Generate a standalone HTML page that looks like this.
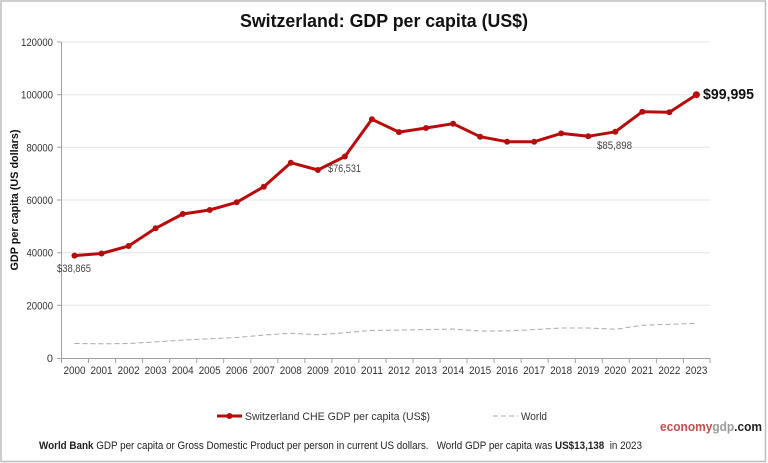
<!DOCTYPE html>
<html><head><meta charset="utf-8"><style>
html,body{margin:0;padding:0;background:#fff;}
svg{display:block;font-family:"Liberation Sans",Arial,sans-serif;}
</style></head><body>
<svg width="768" height="463" viewBox="0 0 768 463" xmlns="http://www.w3.org/2000/svg">
<rect x="1" y="1" width="764.5" height="460.5" fill="#fff" stroke="#bdbdbd" stroke-width="1.5"/>
<text x="384" y="27" text-anchor="middle" font-size="18" font-weight="bold" fill="#111" textLength="288" lengthAdjust="spacingAndGlyphs">Switzerland: GDP per capita (US$)</text>
<g stroke="#e3e3e3" stroke-width="1">
<line x1="61" y1="42" x2="710" y2="42"/>
<line x1="61" y1="94.7" x2="710" y2="94.7"/>
<line x1="61" y1="147.3" x2="710" y2="147.3"/>
<line x1="61" y1="200" x2="710" y2="200"/>
<line x1="61" y1="252.7" x2="710" y2="252.7"/>
<line x1="61" y1="305.3" x2="710" y2="305.3"/>
</g>
<g stroke="#a0a0a0" stroke-width="1">
<line x1="61.5" y1="42" x2="61.5" y2="358"/>
<line x1="61" y1="358.5" x2="710" y2="358.5"/>
<line x1="57" y1="42" x2="61" y2="42"/>
<line x1="57" y1="94.7" x2="61" y2="94.7"/>
<line x1="57" y1="147.3" x2="61" y2="147.3"/>
<line x1="57" y1="200" x2="61" y2="200"/>
<line x1="57" y1="252.7" x2="61" y2="252.7"/>
<line x1="57" y1="305.3" x2="61" y2="305.3"/>
<line x1="57" y1="358.5" x2="61" y2="358.5"/>
<path d="M61.5 358v5 M88.5 358v5 M115.6 358v5 M142.6 358v5 M169.7 358v5 M196.7 358v5 M223.7 358v5 M250.8 358v5 M277.8 358v5 M304.9 358v5 M331.9 358v5 M358.9 358v5 M386 358v5 M413 358v5 M440.1 358v5 M467.1 358v5 M494.1 358v5 M521.2 358v5 M548.2 358v5 M575.3 358v5 M602.3 358v5 M629.3 358v5 M656.4 358v5 M683.4 358v5 M710 358v5"/>
</g>
<g font-size="11" fill="#333" text-anchor="end" lengthAdjust="spacingAndGlyphs">
<text x="53" y="46" textLength="32" lengthAdjust="spacingAndGlyphs">120000</text>
<text x="53" y="98.7" textLength="32" lengthAdjust="spacingAndGlyphs">100000</text>
<text x="53" y="151.3" textLength="26.5" lengthAdjust="spacingAndGlyphs">80000</text>
<text x="53" y="204" textLength="26.5" lengthAdjust="spacingAndGlyphs">60000</text>
<text x="53" y="256.7" textLength="26.5" lengthAdjust="spacingAndGlyphs">40000</text>
<text x="53" y="309.3" textLength="26.5" lengthAdjust="spacingAndGlyphs">20000</text>
<text x="53" y="362">0</text>
</g>
<text transform="translate(18,200) rotate(-90)" text-anchor="middle" font-size="11" font-weight="bold" fill="#111" textLength="141" lengthAdjust="spacingAndGlyphs">GDP per capita (US dollars)</text>
<g font-size="11" fill="#333" text-anchor="middle">
<text x="74.5" y="374" textLength="22" lengthAdjust="spacingAndGlyphs">2000</text><text x="101.5" y="374" textLength="22" lengthAdjust="spacingAndGlyphs">2001</text><text x="128.6" y="374" textLength="22" lengthAdjust="spacingAndGlyphs">2002</text><text x="155.6" y="374" textLength="22" lengthAdjust="spacingAndGlyphs">2003</text><text x="182.7" y="374" textLength="22" lengthAdjust="spacingAndGlyphs">2004</text><text x="209.7" y="374" textLength="22" lengthAdjust="spacingAndGlyphs">2005</text><text x="236.7" y="374" textLength="22" lengthAdjust="spacingAndGlyphs">2006</text><text x="263.8" y="374" textLength="22" lengthAdjust="spacingAndGlyphs">2007</text><text x="290.8" y="374" textLength="22" lengthAdjust="spacingAndGlyphs">2008</text><text x="317.9" y="374" textLength="22" lengthAdjust="spacingAndGlyphs">2009</text><text x="344.9" y="374" textLength="22" lengthAdjust="spacingAndGlyphs">2010</text><text x="371.9" y="374" textLength="22" lengthAdjust="spacingAndGlyphs">2011</text><text x="399" y="374" textLength="22" lengthAdjust="spacingAndGlyphs">2012</text><text x="426" y="374" textLength="22" lengthAdjust="spacingAndGlyphs">2013</text><text x="453.1" y="374" textLength="22" lengthAdjust="spacingAndGlyphs">2014</text><text x="480.1" y="374" textLength="22" lengthAdjust="spacingAndGlyphs">2015</text><text x="507.1" y="374" textLength="22" lengthAdjust="spacingAndGlyphs">2016</text><text x="534.2" y="374" textLength="22" lengthAdjust="spacingAndGlyphs">2017</text><text x="561.2" y="374" textLength="22" lengthAdjust="spacingAndGlyphs">2018</text><text x="588.3" y="374" textLength="22" lengthAdjust="spacingAndGlyphs">2019</text><text x="615.3" y="374" textLength="22" lengthAdjust="spacingAndGlyphs">2020</text><text x="642.3" y="374" textLength="22" lengthAdjust="spacingAndGlyphs">2021</text><text x="669.4" y="374" textLength="22" lengthAdjust="spacingAndGlyphs">2022</text><text x="696.4" y="374" textLength="22" lengthAdjust="spacingAndGlyphs">2023</text>
</g>
<polyline fill="none" stroke="#a8a8a8" stroke-width="1" stroke-dasharray="5,3" points="74.5,343.5 101.5,343.8 128.6,343.5 155.6,341.9 182.7,340.1 209.7,338.8 236.7,337.5 263.8,335.1 290.8,333.2 317.9,334.8 344.9,332.7 371.9,330.4 399,330.1 426,329.6 453.1,329 480.1,331.1 507.1,330.9 534.2,329.6 561.2,328 588.3,328 615.3,329.3 642.3,325.3 669.4,324.3 696.4,323.4"/>
<polyline fill="none" stroke="#b80c0c" stroke-width="3" stroke-linejoin="round" points="74.5,255.6 101.5,253.5 128.6,246 155.6,228.3 182.7,214 209.7,210 236.7,202.3 263.8,186.7 290.8,162.7 317.9,170 344.9,156.5 371.9,119.3 399,132.1 426,128 453.1,123.7 480.1,136.7 507.1,141.7 534.2,141.7 561.2,133.4 588.3,136.3 615.3,131.8 642.3,111.7 669.4,112.3 696.4,94.7"/>
<g fill="#b80c0c">
<circle cx="74.5" cy="255.6" r="3"/><circle cx="101.5" cy="253.5" r="3"/><circle cx="128.6" cy="246" r="3"/><circle cx="155.6" cy="228.3" r="3"/><circle cx="182.7" cy="214" r="3"/><circle cx="209.7" cy="210" r="3"/><circle cx="236.7" cy="202.3" r="3"/><circle cx="263.8" cy="186.7" r="3"/><circle cx="290.8" cy="162.7" r="3"/><circle cx="317.9" cy="170" r="3"/><circle cx="344.9" cy="156.5" r="3"/><circle cx="371.9" cy="119.3" r="3"/><circle cx="399" cy="132.1" r="3"/><circle cx="426" cy="128" r="3"/><circle cx="453.1" cy="123.7" r="3"/><circle cx="480.1" cy="136.7" r="3"/><circle cx="507.1" cy="141.7" r="3"/><circle cx="534.2" cy="141.7" r="3"/><circle cx="561.2" cy="133.4" r="3"/><circle cx="588.3" cy="136.3" r="3"/><circle cx="615.3" cy="131.8" r="3"/><circle cx="642.3" cy="111.7" r="3"/><circle cx="669.4" cy="112.3" r="3"/><circle cx="696.4" cy="94.7" r="3.5"/>
</g>
<g font-size="11" fill="#444">
<text x="57" y="272" textLength="34" lengthAdjust="spacingAndGlyphs">$38,865</text>
<text x="328" y="172" textLength="33" lengthAdjust="spacingAndGlyphs">$76,531</text>
<text x="597" y="149" textLength="35" lengthAdjust="spacingAndGlyphs">$85,898</text>
</g>
<text x="703" y="99" font-size="15" font-weight="bold" fill="#111" textLength="51" lengthAdjust="spacingAndGlyphs">$99,995</text>
<line x1="217" y1="416" x2="242" y2="416" stroke="#b80c0c" stroke-width="3"/>
<circle cx="229.5" cy="416" r="3" fill="#b80c0c"/>
<text x="245" y="420" font-size="11" fill="#333" textLength="185" lengthAdjust="spacingAndGlyphs">Switzerland CHE GDP per capita (US$)</text>
<line x1="493" y1="416" x2="518" y2="416" stroke="#a8a8a8" stroke-width="1" stroke-dasharray="5,3"/>
<text x="521" y="420" font-size="11" fill="#333" textLength="26" lengthAdjust="spacingAndGlyphs">World</text>
<text x="660" y="431" font-size="13" font-weight="bold" textLength="102" lengthAdjust="spacingAndGlyphs"><tspan fill="#c0504d">economy</tspan><tspan fill="#9a9a9a">gdp</tspan><tspan fill="#222">.com</tspan></text>
<text x="39" y="449" font-size="11" fill="#222" textLength="603" lengthAdjust="spacingAndGlyphs" xml:space="preserve"><tspan font-weight="bold">World Bank</tspan> GDP per capita or Gross Domestic Product per person in current US dollars.   World GDP per capita was <tspan font-weight="bold">US$13,138</tspan>  in 2023</text>
</svg>
</body></html>
